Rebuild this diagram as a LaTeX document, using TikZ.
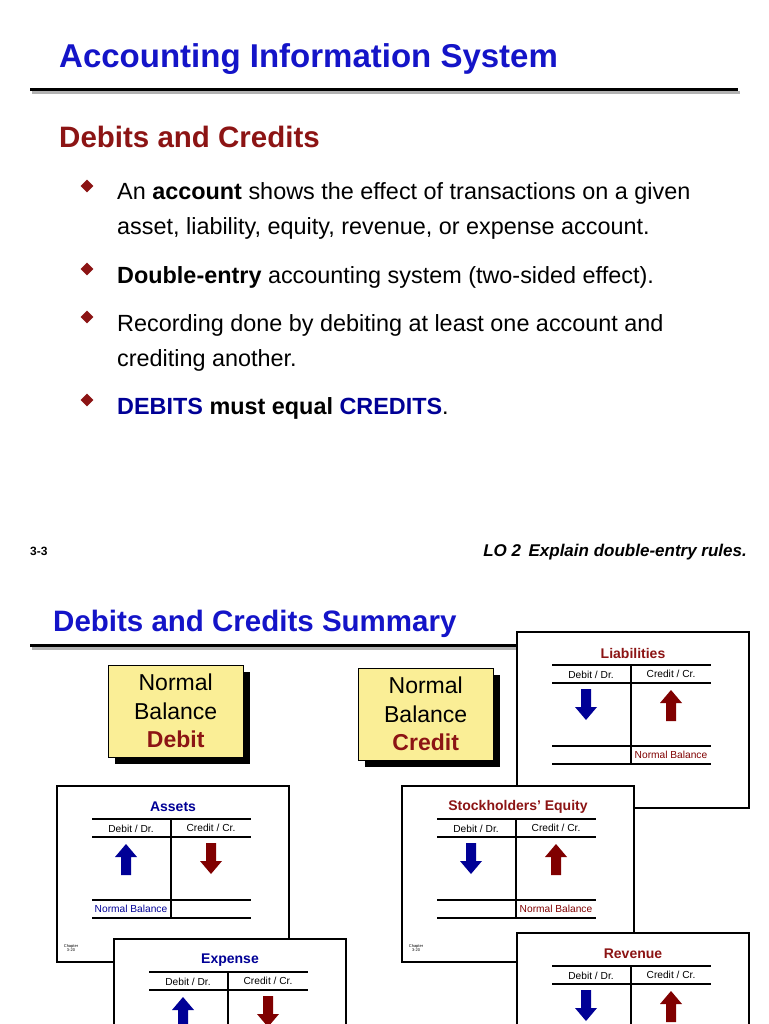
\documentclass[tikz,border=0pt]{standalone}
\usepackage{fontspec}
\setmainfont{Liberation Sans}
\definecolor{tblue}{RGB}{20,20,200}
\definecolor{dred}{RGB}{140,20,20}
\definecolor{navy}{RGB}{0,0,150}
\definecolor{maroon}{RGB}{128,0,0}
\definecolor{ylw}{RGB}{250,238,150}
\usetikzlibrary{shapes.geometric}
\tikzset{
  bul/.style={fill=dred,diamond,inner sep=0pt,minimum size=13pt},
  btxt/.style={anchor=base west,font=\fontsize{23.4}{26}\selectfont,inner sep=0pt},
  nbbox/.style={draw=black,fill=ylw,minimum width=135pt,minimum height=92pt,align=center,font=\fontsize{23}{28.5}\selectfont,inner sep=0pt},
  card/.style={draw=black,line width=1.5pt,fill=white},
  tline/.style={line width=1.4pt},
  small/.style={font=\fontsize{10.2}{11}\selectfont,inner sep=0pt},
}
\newcommand\uarrow[3]{\fill[#3] (#1-5,#2+16)--(#1-5,#2-2)--(#1-11,#2-2)--(#1,#2-15)--(#1+11,#2-2)--(#1+5,#2-2)--(#1+5,#2+16)--cycle;}
\newcommand\darrow[3]{\fill[#3] (#1-5,#2-16)--(#1-5,#2+2)--(#1-11,#2+2)--(#1,#2+15)--(#1+11,#2+2)--(#1+5,#2+2)--(#1+5,#2-16)--cycle;}
\newcommand\tacct[7]{%
\begin{scope}[shift={(#1,#2)}]
\draw[card] (0,0) rectangle (232,176);
\node[font=\bfseries\fontsize{14}{16}\selectfont,text=#4] (t) at (116,21) {#3};
\draw[tline] (35,33)--(194,33) (35,51)--(194,51) (35,114)--(194,114) (35,132)--(194,132) (114,33)--(114,132);
\node[small] at (74,43) {Debit / Dr.};
\node[small] at (154,42) {Credit / Cr.};
\if#5u\uarrow{69}{73}{navy}\else\darrow{69}{73}{navy}\fi
\if#6u\uarrow{154}{73}{maroon}\else\darrow{154}{73}{maroon}\fi
\if#7L\node[small,text=navy] at (74,123) {Normal Balance};\else\node[small,text=maroon] at (154,123) {Normal Balance};\fi
\node[font=\fontsize{4}{4.5}\selectfont,align=center,inner sep=0pt] at (14,162) {Chapter\\3-20};
\end{scope}}
\begin{document}
\begin{tikzpicture}[x=1pt,y=-1pt]
\useasboundingbox[fill=white] (0,0) rectangle (768,1024);
\node[anchor=base west,inner sep=0pt,text=tblue,font=\bfseries\fontsize{33}{38}\selectfont] (title) at (59,68) {Accounting Information System};
\fill[gray!60] (32,91) rectangle (740,94);
\fill[black] (30,88) rectangle (738,91);
\node[anchor=base west,inner sep=0pt,text=dred,font=\bfseries\fontsize{29.5}{34}\selectfont] (sub) at (59,148) {Debits and Credits};
\node[bul] (b1) at (87,186) {};
\node[btxt] at (117,200) {An \textbf{account} shows the effect of transactions on a given};
\node[btxt] at (117,235) {asset, liability, equity, revenue, or expense account.};
\node[bul] (b2) at (87,269) {};
\node[btxt] at (117,283) {\textbf{Double-entry} accounting system (two-sided effect).};
\node[bul] (b3) at (87,317) {};
\node[btxt] at (117,331) {Recording done by debiting at least one account and};
\node[btxt] at (117,366) {crediting another.};
\node[bul] (b4) at (87,400) {};
\node[btxt] at (117,414) {\textbf{\textcolor{navy}{DEBITS} must equal \textcolor{navy}{CREDITS}}.};
\node[anchor=base west,inner sep=0pt,font=\bfseries\fontsize{12}{14}\selectfont] (pg) at (30,555) {3-3};
\node[anchor=base east,inner sep=0pt,font=\bfseries\itshape\fontsize{17}{20}\selectfont] (lo) at (747,556) {LO 2\, Explain double-entry rules.};
\node[anchor=base west,inner sep=0pt,text=tblue,font=\bfseries\fontsize{29.5}{34}\selectfont] (sum) at (53,631) {Debits and Credits Summary};
\fill[gray!60] (32,647) rectangle (740,650);
\fill[black] (30,644) rectangle (738,647);
\fill[black] (115,672) rectangle (250,764);
\node[nbbox,anchor=north west] (nbd) at (108,665) {Normal\\Balance\\\textcolor{dred}{\bfseries Debit}};
\fill[black] (365,675) rectangle (500,767);
\node[nbbox,anchor=north west] (nbc) at (358,668) {Normal\\Balance\\\textcolor{dred}{\bfseries Credit}};
\tacct{517}{632}{Liabilities}{dred}{d}{u}{R}
\tacct{57}{786}{Assets}{navy}{u}{d}{L}
\tacct{402}{786}{Stockholders’ Equity}{dred}{d}{u}{R}
\tacct{114}{939}{Expense}{navy}{u}{d}{L}
\tacct{517}{933}{Revenue}{dred}{d}{u}{R}
\end{tikzpicture}
\end{document}
